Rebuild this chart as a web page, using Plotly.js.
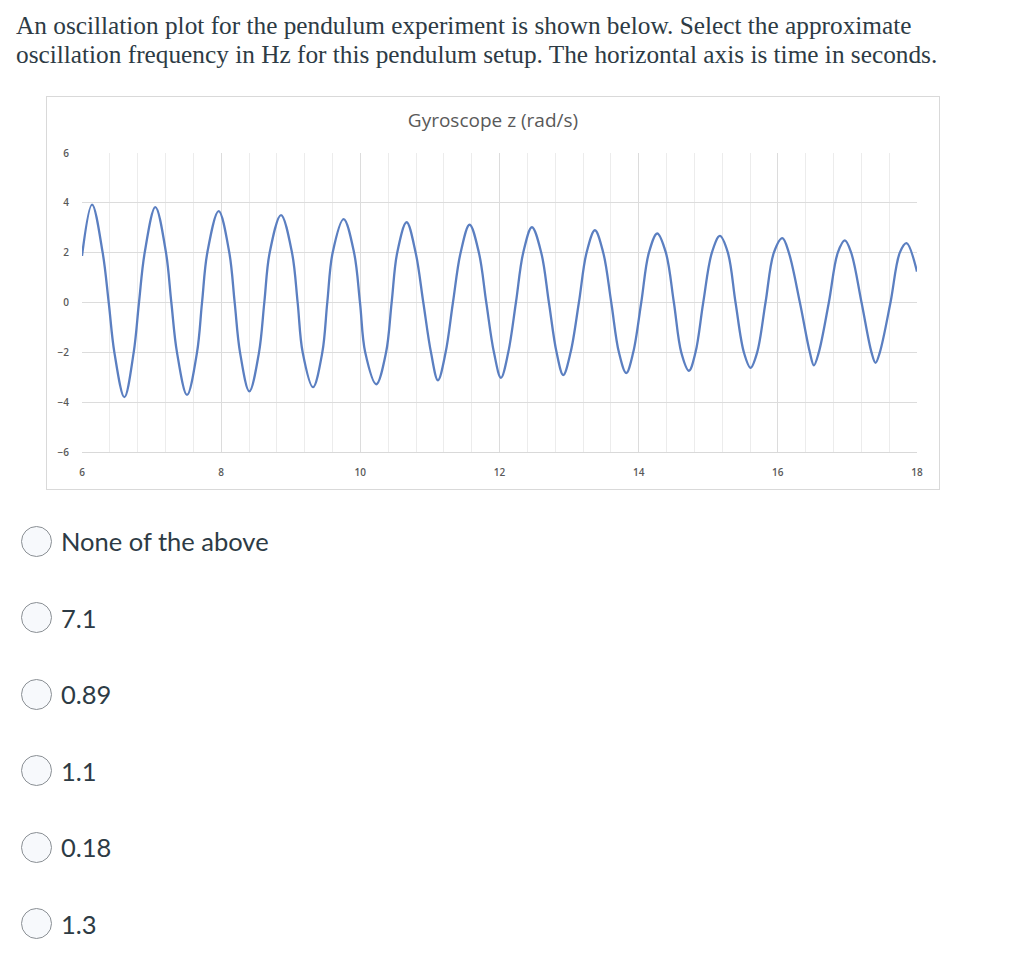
<!DOCTYPE html>
<html>
<head>
<meta charset="utf-8">
<script src="https://cdn.plot.ly/plotly-3.0.1.min.js"></script>
<style>
  body { margin: 0; background: #fff; width: 1024px; height: 953px; position: relative; overflow: hidden; }
  #question {
    position: absolute; left: 16px; top: 11px; width: 935px;
    font-family: "Liberation Serif", "Times New Roman", serif;
    font-size: 25.3px; line-height: 29px; color: #2d3b45;
  }
  #chart {
    position: absolute; left: 46px; top: 96px; width: 892px; height: 392px;
    border: 1px solid #d9d9d9;
  }
  .opt {
    position: absolute; left: 21px; height: 32px; display: flex; align-items: center;
    font-family: Lato, "Liberation Sans", sans-serif; font-size: 25.5px; color: #2d3b45;
  }
  .opt .radio {
    width: 31px; height: 31px; border-radius: 50%; border: 1.5px solid #8a8f94;
    background: #f7f9fc; margin-right: 9px; box-sizing: border-box;
  }
</style>
</head>
<body>
<div id="question">An oscillation plot for the pendulum experiment is shown below. Select the approximate oscillation frequency in Hz for this pendulum setup. The horizontal axis is time in seconds.</div>
<div id="chart"></div>
<div id="options"></div>
<script>
// time (s) and gyroscope z (rad/s):
// peaks, troughs, zero crossings and the crossings of the +2 / -2 gridlines
var time = [6.000, 6.144, 6.297, 6.384, 6.465, 6.609, 6.743, 6.819, 6.901,
            7.054, 7.207, 7.284, 7.365, 7.509, 7.653, 7.725, 7.801,
            7.964, 8.117, 8.194, 8.271, 8.405, 8.544, 8.620, 8.697,
            8.860, 9.018, 9.099, 9.171, 9.319, 9.454, 9.525, 9.602,
            9.760, 9.910, 9.995, 10.070, 10.229, 10.370, 10.450, 10.530,
            10.665, 10.795, 10.905, 11.015, 11.115, 11.226, 11.331, 11.441,
            11.570, 11.704, 11.810, 11.920, 12.021, 12.126, 12.236, 12.341,
            12.466, 12.600, 12.710, 12.820, 12.916, 13.022, 13.141, 13.251,
            13.371, 13.491, 13.606, 13.716, 13.821, 13.922, 14.037, 14.147,
            14.267, 14.391, 14.506, 14.612, 14.722, 14.817, 14.928, 15.052,
            15.167, 15.282, 15.392, 15.512, 15.608, 15.703, 15.823, 15.943,
            16.065, 16.158, 16.317, 16.460, 16.518, 16.589, 16.733, 16.862,
            16.963, 17.054, 17.203, 17.346, 17.404, 17.466, 17.619, 17.753,
            17.849, 18.000];
var gyroZ = [1.87, 3.93, 2, 0, -2, -3.80, -2, 0, 2,
             3.83, 2, 0, -2, -3.71, -2, 0, 2,
             3.67, 2, 0, -2, -3.57, -2, 0, 2,
             3.51, 2, 0, -2, -3.40, -2, 0, 2,
             3.35, 2, 0, -2, -3.28, -2, 0, 2,
             3.22, 2, 0, -2, -3.12, -2, 0, 2,
             3.12, 2, 0, -2, -3.02, -2, 0, 2,
             3.02, 2, 0, -2, -2.91, -2, 0, 2,
             2.90, 2, 0, -2, -2.83, -2, 0, 2,
             2.77, 2, 0, -2, -2.74, -2, 0, 2,
             2.67, 2, 0, -2, -2.62, -2, 0, 2,
             2.58, 2, 0, -2, -2.52, -2, 0, 2,
             2.49, 2, 0, -2, -2.42, -2, 0, 2,
             2.38, 1.24];

var chartTitle = 'Gyroscope z (rad/s)';
var answers = ['None of the above', '7.1', '0.89', '1.1', '0.18', '1.3'];

var trace = {
    x: time,
    y: gyroZ,
    type: 'scatter',
    mode: 'lines',
    line: { color: '#5b7fc1', width: 2.3, shape: 'spline', smoothing: 1 },
    hoverinfo: 'x+y'
};

var tickFont = { family: 'Open Sans, sans-serif', size: 10, color: '#595959', weight: 600 };

var layout = {
    width: 892,
    height: 392,
    paper_bgcolor: '#ffffff',
    plot_bgcolor: '#ffffff',
    showlegend: false,
    margin: { l: 35, r: 22, t: 56, b: 37 },
    title: {
        text: chartTitle,
        x: 0.5, xanchor: 'center',
        y: 0.94, yanchor: 'middle',
        font: { family: 'Open Sans, sans-serif', size: 19, color: '#595959' }
    },
    xaxis: {
        range: [6, 18],
        dtick: 2,
        showgrid: true,
        gridcolor: '#dcdcdc',
        gridwidth: 1,
        minor: { dtick: 0.4, showgrid: true, gridcolor: '#ececec', gridwidth: 1 },
        zeroline: false,
        showline: true,
        linecolor: '#d9d9d9',
        ticks: '',
        ticklabelstandoff: 11,
        tickfont: tickFont
    },
    yaxis: {
        range: [-6, 6],
        dtick: 2,
        showgrid: true,
        gridcolor: '#dcdcdc',
        zeroline: false,
        showline: false,
        ticks: '',
        ticklabelstandoff: 12,
        tickfont: tickFont
    }
};

Plotly.newPlot('chart', [trace], layout, { displayModeBar: false, staticPlot: true });

// answer choices
var box = document.getElementById('options');
answers.forEach(function (a, i) {
    var d = document.createElement('div');
    d.className = 'opt';
    d.style.top = (525 + i * 76.5) + 'px';
    d.innerHTML = '<span class="radio"></span><span>' + a + '</span>';
    box.appendChild(d);
});
</script>
</body>
</html>
